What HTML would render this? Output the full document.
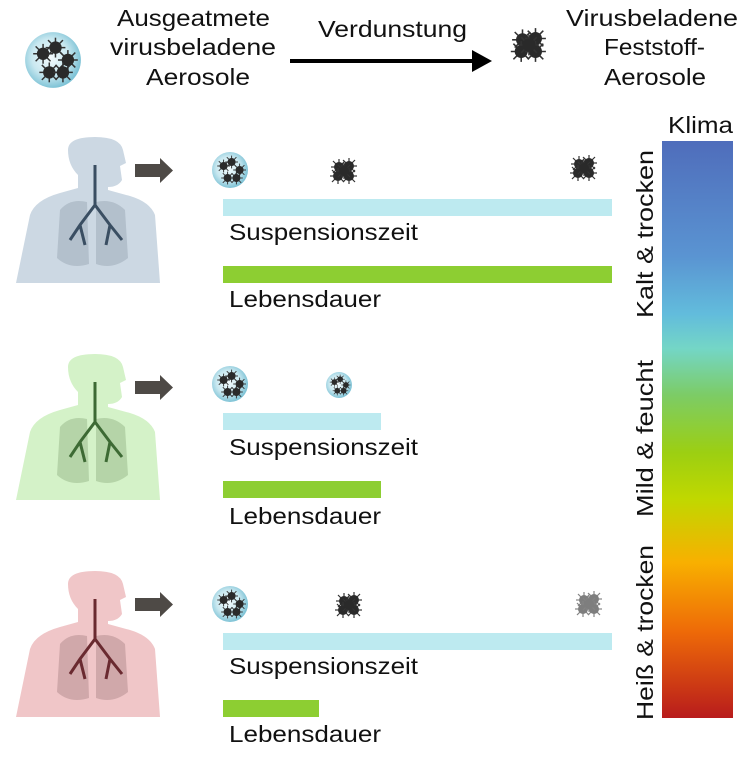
<!DOCTYPE html>
<html><head><meta charset="utf-8"><style>
html,body{margin:0;padding:0;background:#fff}
svg{display:block}
text{font-family:"Liberation Sans",sans-serif;fill:#111}
</style></head><body>
<svg width="741" height="763" viewBox="0 0 741 763" xmlns="http://www.w3.org/2000/svg">
<defs>
<radialGradient id="drop" cx="45%" cy="45%" r="55%">
<stop offset="0" stop-color="#f4fbfd"/><stop offset="0.6" stop-color="#c9e8f0"/><stop offset="1" stop-color="#7fc3d6"/>
</radialGradient>
<linearGradient id="clim" x1="0" y1="0" x2="0" y2="1">
<stop offset="0" stop-color="#4f6dbb"/><stop offset="0.2" stop-color="#5a94d2"/>
<stop offset="0.3" stop-color="#62bcdc"/><stop offset="0.36" stop-color="#74d6c6"/>
<stop offset="0.44" stop-color="#7ccc66"/>
<stop offset="0.54" stop-color="#9ccf12"/><stop offset="0.62" stop-color="#c0d800"/>
<stop offset="0.73" stop-color="#f8b000"/><stop offset="0.85" stop-color="#ee6a08"/>
<stop offset="1" stop-color="#b81c1c"/>
</linearGradient>
<g id="v">
<g stroke="#333" stroke-width="1.2">
<line x1="-8" y1="0" x2="8" y2="0"/><line x1="0" y1="-8" x2="0" y2="8"/>
<line x1="-6" y1="-6" x2="6" y2="6"/><line x1="-6" y1="6" x2="6" y2="-6"/></g>
<circle r="5" fill="#2a2a2a"/></g>
<g id="cl">
<use href="#v" x="-5" y="-4"/><use href="#v" x="5" y="-5"/><use href="#v" x="-6" y="5"/><use href="#v" x="5" y="5"/><use href="#v" x="0" y="0"/>
</g>
<g id="bigdrop">
<circle r="18" fill="url(#drop)"/>
<use href="#v" x="-8" y="-5" transform="scale(0.8)"/><use href="#v" x="2" y="-10" transform="scale(0.8)"/>
<use href="#v" x="12" y="0" transform="scale(0.8)"/><use href="#v" x="-3" y="10" transform="scale(0.8)"/><use href="#v" x="8" y="10" transform="scale(0.8)"/>
</g>
<path id="body" d="M16,283 L30,215 Q35,200 60,193 L78,188 L78,175 Q68,165 68,150 Q68,137 95,137 Q120,137 123,150 L126,163 L120,166 L122,180 Q118,187 108,187 L108,190 L130,196 Q150,202 155,215 L160,283 Z"/>
<g id="lungs">
<path d="M60,210 Q70,198 87,202 L89,264 Q70,270 57,258 Z"/>
<path d="M96,202 Q113,198 125,210 L128,258 Q113,270 96,264 Z"/>
</g>
<g id="tree">
<path d="M95,165 L95,205 L80,225 L70,240 M80,225 L85,245 M95,205 L110,225 L122,240 M110,225 L106,245" stroke-width="3" fill="none"/>
</g>
<g id="arrow"><rect x="135" y="164" width="26" height="13"/><polygon points="160,158 173,170.5 160,183"/></g>
</defs>

<!-- header -->
<g transform="translate(53,60) scale(1.55)"><use href="#bigdrop"/></g>
<text x="117" y="26" font-size="23" textLength="153" lengthAdjust="spacingAndGlyphs">Ausgeatmete</text>
<text x="110" y="55" font-size="23" textLength="166" lengthAdjust="spacingAndGlyphs">virusbeladene</text>
<text x="146" y="85" font-size="23" textLength="104" lengthAdjust="spacingAndGlyphs">Aerosole</text>
<text x="318" y="37" font-size="23" textLength="149" lengthAdjust="spacingAndGlyphs">Verdunstung</text>
<line x1="290" y1="61" x2="474" y2="61" stroke="#000" stroke-width="4"/>
<polygon points="472,50 492,61 472,72" fill="#000"/>
<g transform="translate(529,45) scale(1.3)"><use href="#cl"/></g>
<text x="566" y="26" font-size="23" textLength="172" lengthAdjust="spacingAndGlyphs">Virusbeladene</text>
<text x="604" y="55" font-size="23" textLength="101" lengthAdjust="spacingAndGlyphs">Feststoff-</text>
<text x="604" y="85" font-size="23" textLength="102" lengthAdjust="spacingAndGlyphs">Aerosole</text>

<!-- row 1 -->
<use href="#body" fill="#ccd8e3"/>
<use href="#lungs" fill="#b3c0cc"/>
<use href="#tree" stroke="#3a4e62"/>
<use href="#arrow" fill="#4e4a46"/>
<use href="#bigdrop" x="230" y="170"/>
<use href="#cl" x="344" y="171"/>
<use href="#cl" x="584" y="168"/>
<rect x="223" y="199" width="389" height="17" fill="#bdeaf0"/>
<text x="229" y="240" font-size="23" textLength="189" lengthAdjust="spacingAndGlyphs">Suspensionszeit</text>
<rect x="223" y="266" width="389" height="17" fill="#8dce32"/>
<text x="229" y="307" font-size="23" textLength="152" lengthAdjust="spacingAndGlyphs">Lebensdauer</text>

<!-- row 2 -->
<g transform="translate(0,217)">
<use href="#body" fill="#d4f2c8"/>
<use href="#lungs" fill="#b5d4a8"/>
<use href="#tree" stroke="#3d6a34"/>
<use href="#arrow" fill="#4e4a46"/>
</g>
<use href="#bigdrop" x="230" y="384"/>
<g transform="translate(339,385) scale(0.72)"><use href="#bigdrop"/></g>
<rect x="223" y="413" width="158" height="17" fill="#bdeaf0"/>
<text x="229" y="455" font-size="23" textLength="189" lengthAdjust="spacingAndGlyphs">Suspensionszeit</text>
<rect x="223" y="481" width="158" height="17" fill="#8dce32"/>
<text x="229" y="524" font-size="23" textLength="152" lengthAdjust="spacingAndGlyphs">Lebensdauer</text>

<!-- row 3 -->
<g transform="translate(0,434)">
<use href="#body" fill="#f0c6c8"/>
<use href="#lungs" fill="#d0a8aa"/>
<use href="#tree" stroke="#6a2a30"/>
<use href="#arrow" fill="#4e4a46"/>
</g>
<use href="#bigdrop" x="230" y="604"/>
<use href="#cl" x="349" y="605"/>
<g opacity="0.6"><use href="#cl" x="589" y="604"/></g>
<rect x="223" y="633" width="389" height="17" fill="#bdeaf0"/>
<text x="229" y="674" font-size="23" textLength="189" lengthAdjust="spacingAndGlyphs">Suspensionszeit</text>
<rect x="223" y="700" width="96" height="17" fill="#8dce32"/>
<text x="229" y="742" font-size="23" textLength="152" lengthAdjust="spacingAndGlyphs">Lebensdauer</text>

<!-- climate -->
<text x="668" y="133" font-size="23" textLength="65" lengthAdjust="spacingAndGlyphs">Klima</text>
<rect x="662" y="141" width="71" height="577" fill="url(#clim)"/>
<text font-size="23" textLength="168" lengthAdjust="spacingAndGlyphs" transform="translate(653,318) rotate(-90)">Kalt &amp; trocken</text>
<text font-size="23" textLength="157" lengthAdjust="spacingAndGlyphs" transform="translate(653,517) rotate(-90)">Mild &amp; feucht</text>
<text font-size="23" textLength="175" lengthAdjust="spacingAndGlyphs" transform="translate(653,720) rotate(-90)">Heiß &amp; trocken</text>
</svg>
</body></html>
